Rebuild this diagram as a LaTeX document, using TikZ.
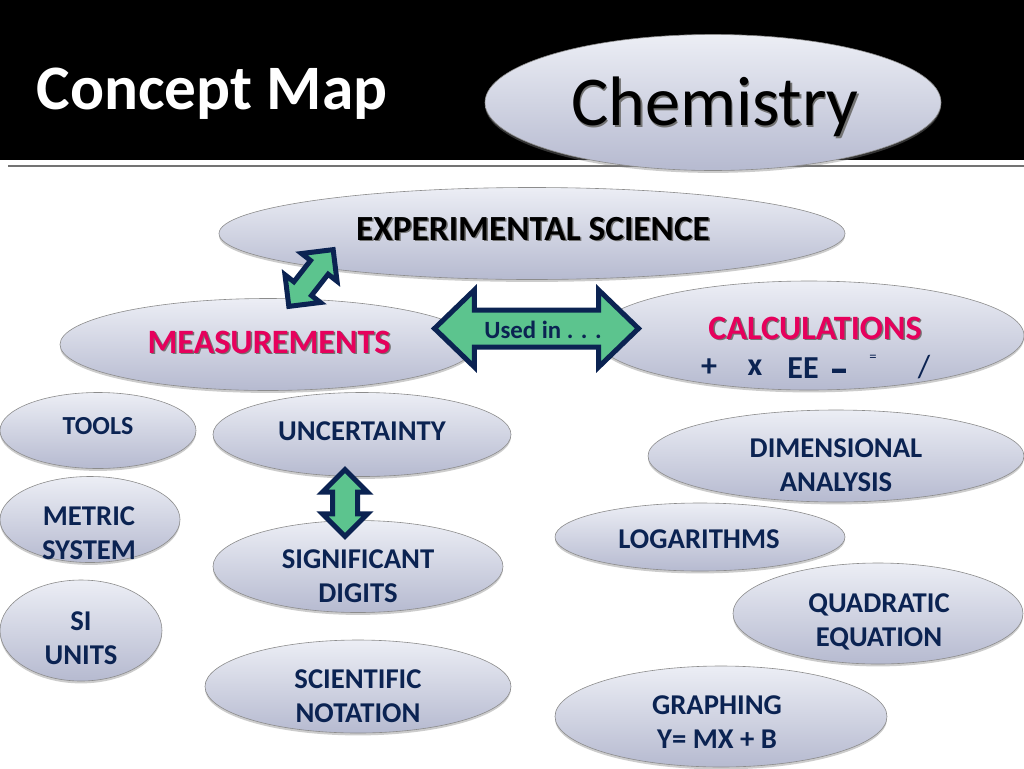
\documentclass[tikz,border=0pt]{standalone}
\usepackage{fontspec}
\setmainfont{Carlito}
\usetikzlibrary{shapes.geometric,shapes.arrows,shadows}
\definecolor{navy}{HTML}{0B2352}
\definecolor{mint}{HTML}{5CC48E}
\definecolor{pinkred}{HTML}{E6005C}
\definecolor{bubtop}{HTML}{ECEEF5}
\definecolor{bubbot}{HTML}{B6BAD0}
\tikzset{
  bubble/.style={ellipse,draw=black!45,line width=.45pt,top color=bubtop,bottom color=bubbot,inner sep=0pt,outer sep=0pt,
    drop shadow={opacity=.4,shadow xshift=0pt,shadow yshift=-1.8pt}},
  lbl/.style={font=\fontsize{21.5}{25.5}\selectfont\bfseries,text=navy,inner sep=0pt,align=center},
  dbl/.style={double arrow,draw=navy,fill=mint,line width=3.75pt,inner sep=0pt,outer sep=0pt,double arrow tip angle=90,miter limit=5}
}
\newcommand{\bub}[5]{\node[bubble,minimum width=#4*1.5pt,minimum height=#5*1.5pt] (#1) at (#2,#3) {};}
\newcommand{\lab}[4]{\node[lbl] (#1) at (#2,#3) {#4};}
\newcommand{\shlab}[6]{\node[lbl,font=#5,text=black!55,xshift=1.1pt,yshift=-1.1pt] (#1s) at (#2,#3) {#6};\node[lbl,font=#5,text=#4] (#1) at (#2,#3) {#6};}
\begin{document}
\begin{tikzpicture}[x=.75pt,y=-.75pt]
\useasboundingbox (0,0) rectangle (1024,768);
\fill[white] (0,0) rectangle (1024,768);
\fill[black] (0,0) rectangle (1024,160);
\coordinate (ruleL) at (8,166);
\coordinate (ruleR) at (1024,166);
\draw[black!55,line width=.9pt] (ruleL) -- (ruleR);
% ellipses
\bub{chem}{713}{102.5}{228}{68}
\bub{exp}{532}{233.5}{313}{46}
\bub{meas}{268}{344.5}{208}{46}
\bub{calc}{809}{335.5}{215}{54.5}
\bub{tools}{98}{430.5}{98}{38}
\bub{unc}{362}{434.5}{149}{42}
\bub{metric}{90}{519.5}{90}{43}
\bub{sig}{358}{566.5}{145}{46}
\bub{si}{81}{630.5}{81}{50.5}
\bub{sci}{358}{686.5}{153}{46.5}
\bub{dim}{836}{456}{188}{46}
\bub{log}{700}{537}{145}{34}
\bub{quad}{878}{613.5}{145}{50.5}
\bub{graph}{721}{716.5}{166}{50.5}
% arrows
\node[dbl,double arrow tip angle=88,minimum height=153pt,minimum width=54pt,double arrow head extend=15pt,text height=24pt] (used) at (536.5,328.5) {};
\node[dbl,rotate=52,minimum height=54pt,minimum width=30pt,double arrow head extend=8.5pt,text height=13pt] (diag) at (311,278) {};
\node[dbl,rotate=90,minimum height=50pt,minimum width=30pt,double arrow head extend=7.5pt,text height=15pt] (vert) at (345,503) {};
% title texts
\node[lbl,font=\fontsize{47.5}{50}\selectfont\bfseries,text=white] (title) at (212,94) {Concept Map};
\shlab{chemt}{715}{107}{black}{\fontsize{52.5}{55}\selectfont}{Chemistry}
\shlab{expt}{533}{229}{black}{\fontsize{26.5}{28}\selectfont\bfseries}{EXPERIMENTAL SCIENCE}
\shlab{meast}{269}{342}{pinkred}{\fontsize{25.6}{28}\selectfont\bfseries}{MEASUREMENTS}
\shlab{calct}{815}{328}{pinkred}{\fontsize{25.6}{28}\selectfont\bfseries}{CALCULATIONS}
% labels
\node[lbl,font=\fontsize{18.6}{22}\selectfont\bfseries] (usedt) at (543,330) {Used in . . .};
\node[lbl,font=\fontsize{24}{26}\selectfont\bfseries] (plus) at (709,368) {+};
\node[lbl,font=\fontsize{24}{26}\selectfont\bfseries] (times) at (755,368) {x};
\node[lbl,font=\fontsize{24}{26}\selectfont\bfseries] (ee) at (803,368) {EE};
\node[lbl,font=\fontsize{27}{27}\selectfont\bfseries\addfontfeature{FakeBold=3}] (minus) at (839,375) {–};
\node[lbl,font=\fontsize{11}{12}\selectfont] (eq) at (873,358) {=};
\node[lbl,font=\fontsize{24}{26}\selectfont\mdseries] (slash) at (924,367) {/};
\node[lbl,font=\fontsize{19.5}{25}\selectfont\bfseries] (toolst) at (98,426) {TOOLS};
\lab{unct}{362}{431}{UNCERTAINTY}
\lab{metrict}{89}{533}{METRIC\\SYSTEM}
\lab{sigt}{358}{576}{SIGNIFICANT\\DIGITS}
\lab{sit}{81}{638}{SI\\UNITS}
\lab{scit}{358}{696}{SCIENTIFIC\\NOTATION}
\lab{dimt}{836}{465}{DIMENSIONAL\\ANALYSIS}
\lab{logt}{699}{539}{LOGARITHMS}
\lab{quadt}{879}{622}{QUADRATIC\\EQUATION}
\lab{grapht}{717}{722}{GRAPHING\\Y= MX + B}
\end{tikzpicture}
\end{document}
